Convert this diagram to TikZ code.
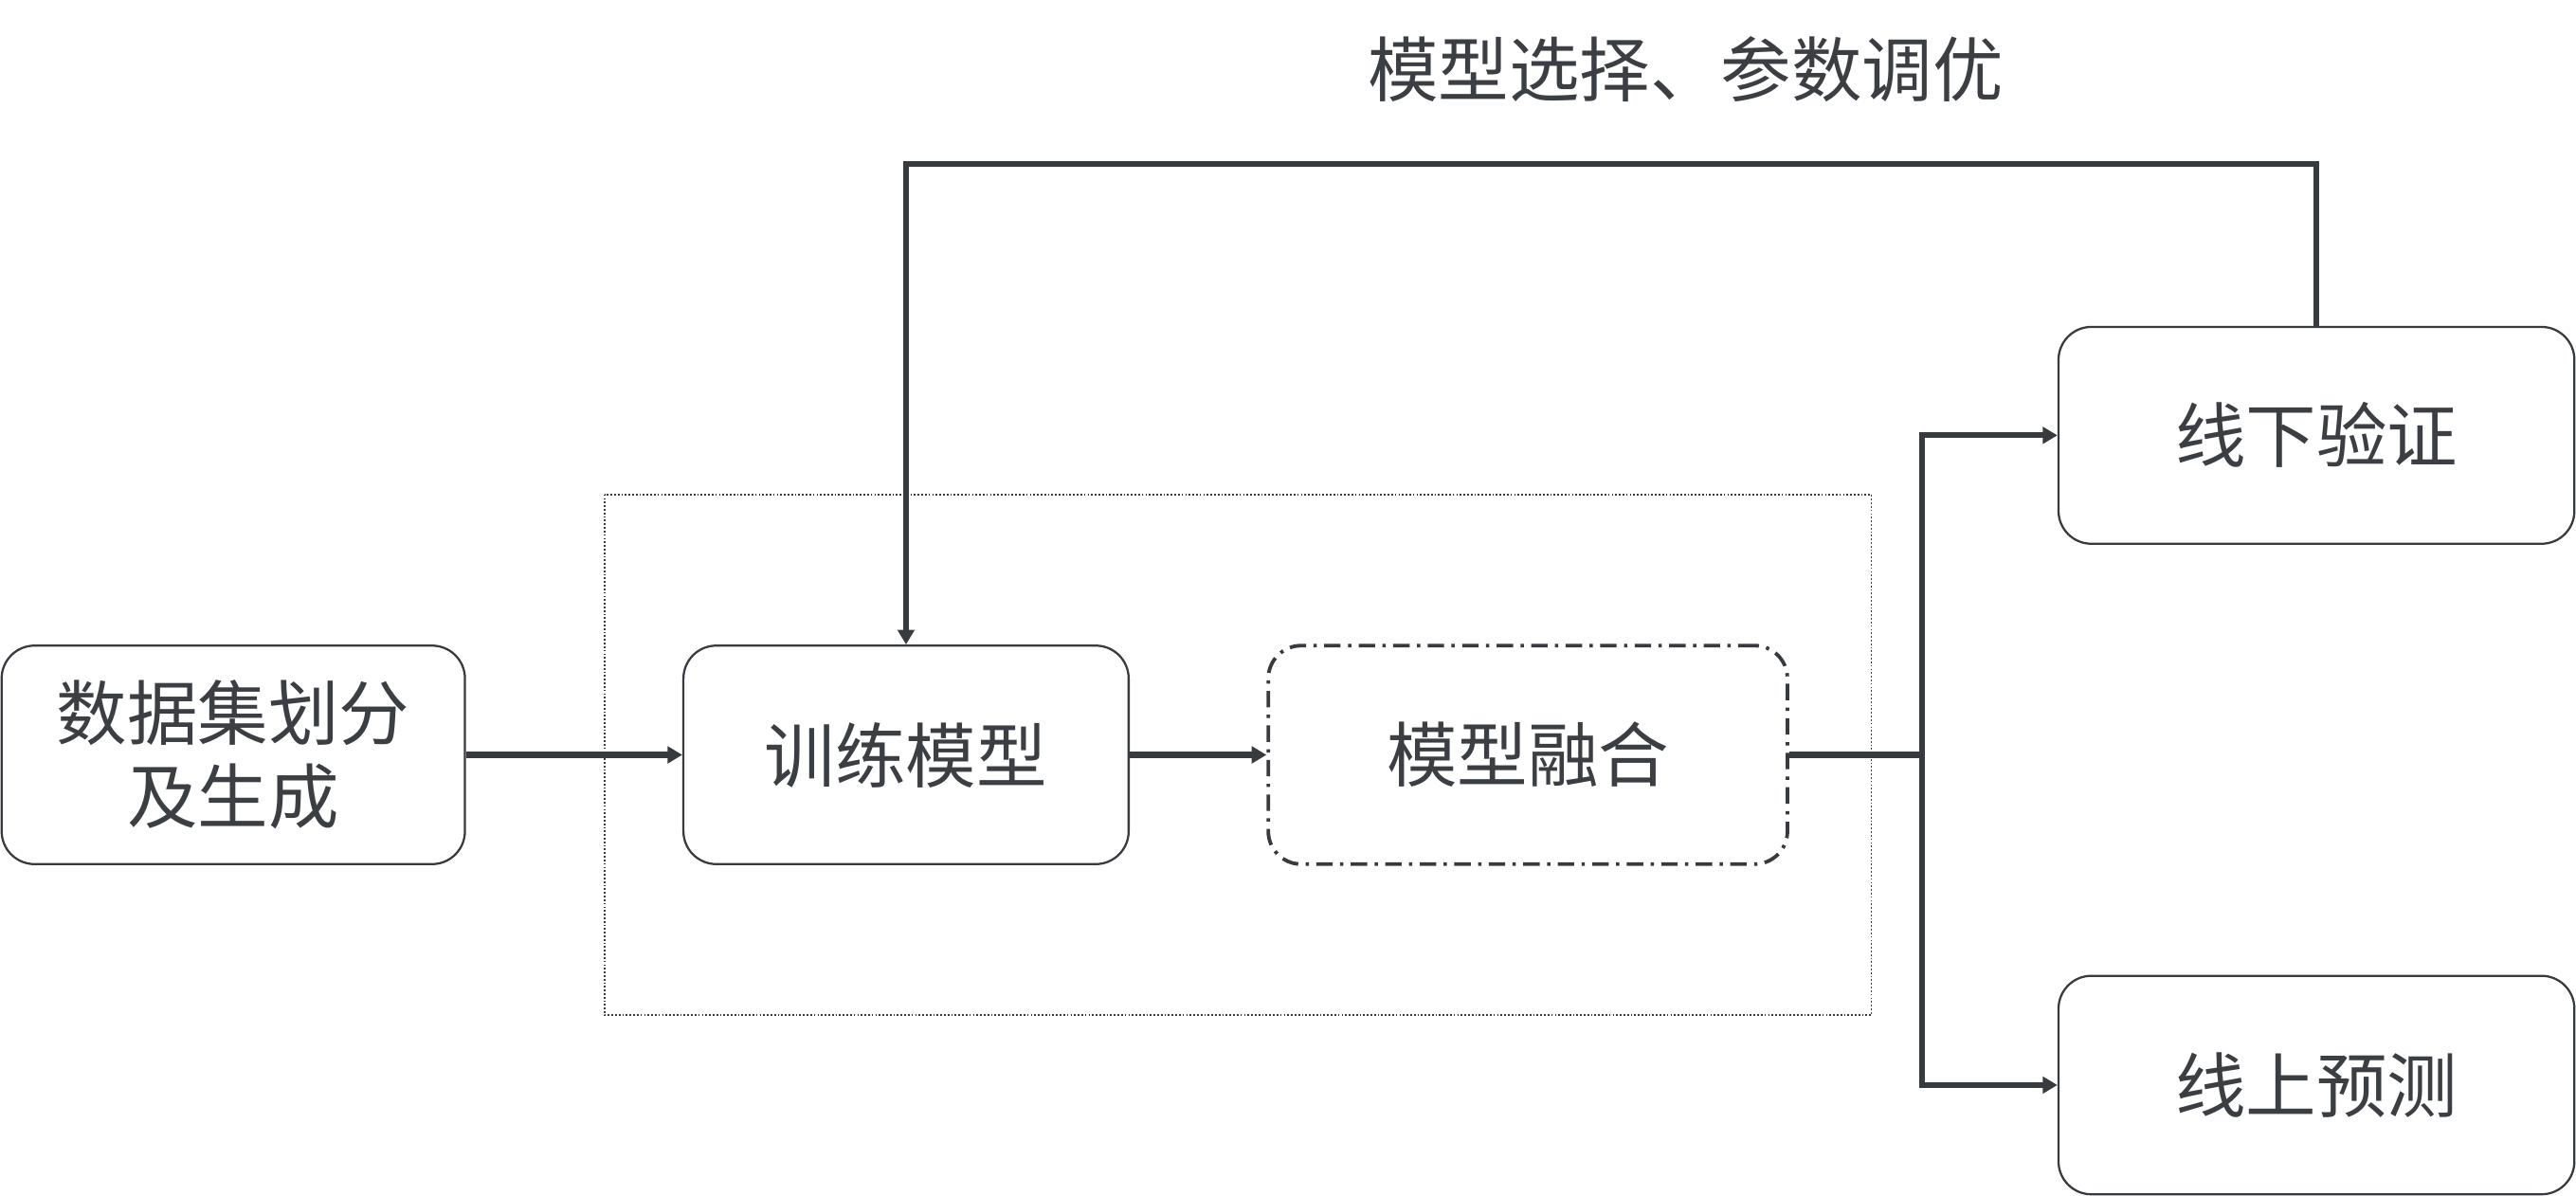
\documentclass[tikz,border=0pt]{standalone}
\usepackage{fontspec}
\newfontfamily\cjk{Noto Sans CJK SC}
\usetikzlibrary{arrows.meta}
\definecolor{ink}{HTML}{373B3F}
\definecolor{txt}{HTML}{3B3F44}
\tikzset{
  box/.style={draw=ink, line width=1.3pt, rounded corners=20pt, inner sep=0pt, align=center,
    font=\cjk\fontsize{43}{51}\selectfont, text=txt},
  dashbox/.style={box, line width=2.2pt, dash pattern=on 10pt off 4.5pt on 2pt off 4.5pt},
  conn/.style={draw=ink, line width=3.6pt},
  arr/.style={conn, -{Triangle[width=10pt,length=9pt]}},
  grp/.style={draw=ink, line width=1pt, dash pattern=on 1pt off 1.2pt}
}
\begin{document}
\begin{tikzpicture}[x=1pt, y=-1pt]
\useasboundingbox (0,0) rectangle (1568,728);
\draw[grp] (368,301) rectangle (1139,618);
\node[box, minimum width=282pt, minimum height=133pt] (A) at (142,459.5) {数据集划分\\及生成};
\node[box, minimum width=271pt, minimum height=133pt] (B) at (551.5,459.5) {训练模型};
\node[dashbox, minimum width=316pt, minimum height=133pt] (C) at (930,459.5) {模型融合};
\node[box, minimum width=314pt, minimum height=132pt] (D) at (1410,265) {线下验证};
\node[box, minimum width=314pt, minimum height=133pt] (E) at (1410,660.5) {线上预测};
\node[font=\cjk\fontsize{43}{51}\selectfont, text=txt, inner sep=0pt] (T) at (1026,42) {模型选择、参数调优};
\coordinate (top) at (551.5,100);
\coordinate (split) at (1170,459.5);
\draw[arr] (A) -- (B);
\draw[arr] (B) -- (C);
\draw[conn] (C.east) -- (split);
\draw[arr] (split) |- (D.west);
\draw[arr] (split) |- (E.west);
\draw[arr] (D.north) |- (top) -- (B.north);
\end{tikzpicture}
\end{document}
